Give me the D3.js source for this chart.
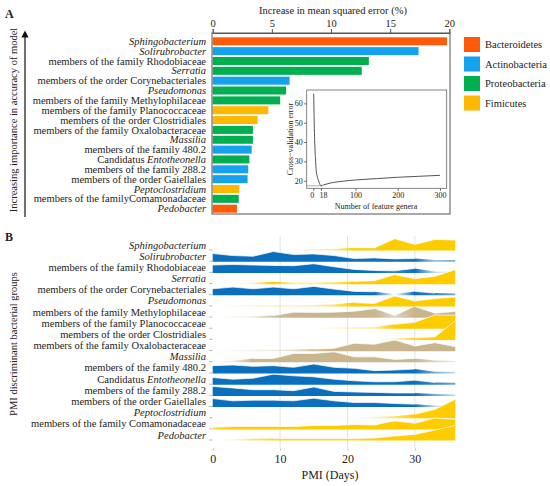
<!DOCTYPE html>
<html>
<head>
<meta charset="utf-8">
<script src="https://cdn.jsdelivr.net/npm/d3@7"></script>
<style>
  body { margin: 0; background: #fff; }
  text { font-family: "Liberation Serif", "DejaVu Serif", serif; fill: #222; }
</style>
</head>
<body>
<script>
// ---- data ----
var taxaA = ["*Sphingobacterium*", "*Solirubrobacter*", "members of the family Rhodobiaceae", "*Serratia*",
  "members of the order Corynebacteriales", "*Pseudomonas*", "members of the family Methylophilaceae",
  "members of the family Planococcaceae", "members of the order Clostridiales",
  "members of the family Oxalobacteraceae", "*Massilia*", "members of the family 480.2",
  "Candidatus *Entotheonella*", "members of the family 288.2 ", "members of the order Gaiellales",
  "*Peptoclostridium*", "members of the familyComamonadaceae", "*Pedobacter*"];
var mseIncrease = [19.8, 17.4, 13.2, 12.6, 6.5, 6.2, 5.7, 4.7, 3.8, 3.4, 3.4, 3.3, 3.1, 3.0, 2.95, 2.25, 2.2, 2.05];
var phylum = ["Bacteroidetes", "Actinobacteria", "Proteobacteria", "Proteobacteria", "Actinobacteria",
  "Proteobacteria", "Proteobacteria", "Fimicutes", "Fimicutes", "Proteobacteria", "Proteobacteria",
  "Actinobacteria", "Proteobacteria", "Actinobacteria", "Actinobacteria", "Fimicutes", "Proteobacteria",
  "Bacteroidetes"];
var phylaLegend = ["Bacteroidetes", "Actinobacteria", "Proteobacteria", "Fimicutes"];
var phylaColors = ["#ff5a0a", "#14a2ee", "#00b050", "#ffb800"];
var mseTicks = [0, 5, 10, 15, 20];

// inset: cross-validation
var cvGenera = [1, 2, 3, 5, 7, 9, 12, 15, 18, 25, 40, 60, 80, 100, 150, 200, 250, 300];
var cvError = [65, 52, 43, 32, 25, 22.5, 20.3, 18.5, 17.4, 17.9, 18.8, 19.5, 20.0, 20.4, 21.1, 21.8, 22.3, 22.8];
var cvXTicks = [0, 18, 100, 200, 300];
var cvYTicks = [20, 30, 40, 50, 60];

// panel B: ridges
var taxaB = ["*Sphingobacterium*", "*Solirubrobacter*", "members of the family Rhodobiaceae", "*Serratia*",
  "members of the order Corynebacteriales", "*Pseudomonas*", "members of the family Methylophilaceae",
  "members of the family Planococcaceae", "members of the order Clostridiales",
  "members of the family Oxalobacteraceae", "*Massilia*", "members of the family 480.2",
  "Candidatus *Entotheonella*", "members of the family 288.2", "members of the order Gaiellales",
  "*Peptoclostridium*", "members of the family Comamonadaceae", "*Pedobacter*"];
var days = [0, 3, 6, 9, 12, 15, 18, 21, 24, 27, 30, 33, 36];
var trend = ["late", "early", "early", "late", "early", "late", "mid", "late", "late", "mid", "mid",
  "early", "early", "early", "early", "late", "late", "late"];
var trendColors = { early: "#0a6fbd", mid: "#c9b58e", late: "#ffcc00" };
var abundance = [
  [0, 0, 0, 0, 0, 0.3, 0.5, 1.7, 1.5, 10.7, 5, 10, 9.3],
  [7, 5, 4.3, 9, 6, 6.7, 5, 2, 2.7, 1.7, 2, 0.5, 0.7],
  [6.7, 7.3, 6.7, 6.3, 6, 8, 5, 2.3, 1.3, 1, 3.3, 0.3, 0],
  [0, 0, 0.3, 1.3, 0.4, 0.4, 0.7, 1.5, 2.3, 8.3, 4.3, 6.7, 13.3],
  [5.3, 7, 5.3, 7, 5.3, 7.7, 5, 2.7, 2.3, 0, 2.7, 1, 0.7],
  [0, 0.1, 0.2, 0.3, 0.3, 0.4, 0.7, 2.7, 1.7, 9.3, 4.3, 6.7, 8.3],
  [0, 0.1, 0.3, 1, 4.3, 4, 4.3, 5.3, 7.7, 0.7, 10, 3.3, 5],
  [0, 0, 0, 0, 0, 0, 0.2, 0.3, 0.5, 3.3, 5.3, 12.7, 12.5],
  [0, 0, 0, 0, 0, 0, 0, 0, 0, 0.3, 1, 2, 18],
  [0, 0.1, 0.2, 0.3, 0.5, 1, 1.7, 6.7, 5.7, 10, 4, 7.3, 3.3],
  [0, 0.3, 2.7, 2.7, 7.7, 7.7, 9.3, 4.3, 4.3, 1.7, 2.7, 0.7, 0.3],
  [6.7, 7.3, 6, 6.7, 5, 8.3, 5, 4, 1.7, 2.3, 3.3, 0.7, 0.3],
  [6, 4.3, 5.3, 9.3, 7.7, 6.7, 4.3, 2.7, 1.7, 1.7, 3.3, 1, 0.7],
  [8.3, 6.7, 5, 5, 4, 7.7, 3.3, 2.7, 2.3, 1.7, 1.7, 0.7, 0.3],
  [7.3, 5, 5.7, 5.7, 5, 7.7, 5, 3.3, 3.3, 2.3, 1.7, 0.3, 0],
  [0, 0, 0, 0, 0, 0, 0, 0, 0.3, 0.7, 2.7, 7.7, 17.7],
  [1, 1.7, 1.7, 1.7, 1.7, 2.7, 2.7, 3.7, 3.3, 7.3, 5, 10.3, 8.7],
  [0, 0.2, 0.7, 1, 1, 1, 1, 1, 1.3, 3.3, 5, 9.3, 14]
];
var dayTicks = [0, 10, 20, 30];

var svg = d3.select("body").append("svg").attr("width", 550).attr("height", 486);
var defs = svg.append("defs");

// write a label where *...* parts are italic
function richText(sel, label) {
  label.split("*").forEach(function(part, i) {
    if (part === "") return;
    sel.append("tspan").attr("font-style", i % 2 ? "italic" : "normal").text(part);
  });
}

// ================= Panel A =================
svg.append("text").attr("x", 5).attr("y", 18).attr("font-size", 12).attr("font-weight", "bold").text("A");

var xA = d3.scaleLinear().domain([0, 20]).range([212.7, 449.3]);
var yA = d3.scalePoint().domain(d3.range(taxaA.length)).range([41.3, 208.7]);
var colorA = d3.scaleOrdinal().domain(phylaLegend).range(phylaColors);

svg.append("g").selectAll("rect").data(mseIncrease).join("rect")
    .attr("x", xA(0))
    .attr("y", function(d, i) { return yA(i) - 4; })
    .attr("width", function(d) { return xA(d) - xA(0); })
    .attr("height", 8)
    .attr("fill", function(d, i) { return colorA(phylum[i]); });

svg.append("g").selectAll("text").data(taxaA).join("text")
    .attr("x", 206)
    .attr("y", function(d, i) { return yA(i) + 3.6; })
    .attr("text-anchor", "end")
    .attr("font-size", 10.5)
    .each(function(d) { richText(d3.select(this), d); });

// frame
svg.append("rect").attr("x", 212).attr("y", 33).attr("width", 238).attr("height", 181)
    .attr("fill", "none").attr("stroke", "#555").attr("stroke-width", 1);

var axisA = svg.append("g").attr("transform", "translate(0,33)")
    .call(d3.axisTop(xA).tickValues(mseTicks).tickSize(4).tickPadding(2));
axisA.select(".domain").attr("stroke", "#555");
axisA.selectAll(".tick line").attr("stroke", "#555");
axisA.selectAll(".tick text").attr("font-size", 10.5).attr("font-family", "Liberation Serif").attr("fill", "#222");

svg.append("text").attr("x", 333).attr("y", 14).attr("text-anchor", "middle").attr("font-size", 10.5)
    .text("Increase in mean squared error (%)");

// arrow + rotated title
defs.append("marker").attr("id", "arrow").attr("viewBox", "0 0 10 10").attr("refX", 5).attr("refY", 5)
    .attr("markerWidth", 6).attr("markerHeight", 7).attr("orient", "auto")
  .append("path").attr("d", "M0,0L10,5L0,10z").attr("fill", "#111");
svg.append("line").attr("x1", 25).attr("x2", 25).attr("y1", 217).attr("y2", 34)
    .attr("stroke", "#111").attr("stroke-width", 1.2).attr("marker-end", "url(#arrow)");
svg.append("text").attr("transform", "translate(17,120) rotate(-90)").attr("text-anchor", "middle")
    .attr("font-size", 10.5).text("Increasing importance in accuracy of model");

// legend
var legend = svg.append("g").selectAll("g").data(phylaLegend).join("g")
    .attr("transform", function(d, i) { return "translate(464," + (37 + i * 19.5) + ")"; });
legend.append("rect").attr("width", 16).attr("height", 15).attr("fill", function(d) { return colorA(d); });
legend.append("text").attr("x", 21).attr("y", 11).attr("font-size", 10.5).text(function(d) { return d; });

// inset
var inset = svg.append("g");
var xI = d3.scaleLinear().domain([-15.6, 316]).range([306.7, 446.7]);
var yI = d3.scaleLinear().domain([16.1, 66.9]).range([188.3, 90]);
inset.append("rect").attr("x", 306.7).attr("y", 90).attr("width", 140).attr("height", 98.3)
    .attr("fill", "#fff").attr("stroke", "#666").attr("stroke-width", 0.8);
var ixAxis = inset.append("g").attr("transform", "translate(0,188.3)")
    .call(d3.axisBottom(xI).tickValues(cvXTicks).tickSize(2.5).tickPadding(2));
var iyAxis = inset.append("g").attr("transform", "translate(306.7,0)")
    .call(d3.axisLeft(yI).tickValues(cvYTicks).tickSize(2.5).tickPadding(1.5));
[ixAxis, iyAxis].forEach(function(a) {
  a.select(".domain").remove();
  a.selectAll(".tick line").attr("stroke", "#666");
  a.selectAll(".tick text").attr("font-size", 8).attr("font-family", "Liberation Serif").attr("fill", "#333");
});
ixAxis.selectAll(".tick text").filter(function(d) { return d === 0; }).attr("dx", -1.5);
ixAxis.selectAll(".tick text").filter(function(d) { return d === 18; }).attr("dx", 2);
inset.append("line").attr("x1", 306.7).attr("x2", xI(18)).attr("y1", yI(17.4)).attr("y2", yI(17.4))
    .attr("stroke", "#999").attr("stroke-width", 0.8);
inset.append("path")
    .attr("d", d3.line().x(function(d, i) { return xI(cvGenera[i]); }).y(function(d) { return yI(d); })
      .curve(d3.curveMonotoneX)(cvError))
    .attr("fill", "none").attr("stroke", "#555").attr("stroke-width", 1);
inset.append("text").attr("x", 376).attr("y", 209).attr("text-anchor", "middle").attr("font-size", 8)
    .text("Number of feature genera");
inset.append("text").attr("transform", "translate(293,139) rotate(-90)").attr("text-anchor", "middle")
    .attr("font-size", 8).text("Cross\u2212validation error");

// ================= Panel B =================
svg.append("text").attr("x", 5).attr("y", 241).attr("font-size", 12).attr("font-weight", "bold").text("B");

var xB = d3.scaleLinear().domain([0, 36]).range([212.7, 455.3]);
var yB = d3.scaleLinear().domain([0, taxaB.length - 1]).range([250, 440]);
var hB = d3.scaleLinear().domain([0, 20]).range([0, 20]);

svg.append("g").selectAll("line").data(dayTicks.slice(1)).join("line")
    .attr("x1", xB).attr("x2", xB).attr("y1", 236).attr("y2", 448)
    .attr("stroke", "#e2e2e2").attr("stroke-width", 1);

svg.append("g").selectAll("line").data(taxaB).join("line")
    .attr("x1", 209).attr("x2", 212.5)
    .attr("y1", function(d, i) { return yB(i); }).attr("y2", function(d, i) { return yB(i); })
    .attr("stroke", "#bbb");

var ridges = svg.append("g");
abundance.forEach(function(vals, i) {
  var base = yB(i);
  var col = trendColors[trend[i]];
  var grad = defs.append("linearGradient").attr("id", "fade" + i)
      .attr("gradientUnits", "userSpaceOnUse")
      .attr("x1", xB(0)).attr("x2", xB(36)).attr("y1", 0).attr("y2", 0);
  vals.forEach(function(v, j) {
    grad.append("stop").attr("offset", j / (days.length - 1))
        .attr("stop-color", col).attr("stop-opacity", Math.min(1, v / 1.2));
  });
  var area = d3.area()
      .x(function(d, j) { return xB(days[j]); })
      .y0(base + 0.6)
      .y1(function(d) { return base - hB(d) - 0.6; });
  ridges.append("path").attr("d", area(vals)).attr("fill", "url(#fade" + i + ")");
  var top = d3.line().x(function(d, j) { return xB(days[j]); })
      .y(function(d) { return base - hB(d) - 0.6; })
      .defined(function(d) { return d > 0.8; });
  ridges.append("path").attr("d", top(vals)).attr("fill", "none").attr("stroke", "#fff").attr("stroke-width", 0.7);
});

svg.append("g").selectAll("text").data(taxaB).join("text")
    .attr("x", 206)
    .attr("y", function(d, i) { return yB(i) - 1.5; })
    .attr("text-anchor", "end")
    .attr("font-size", 10.5)
    .each(function(d) { richText(d3.select(this), d); });

var axisB = svg.append("g").attr("transform", "translate(0,448)")
    .call(d3.axisBottom(xB).tickValues(dayTicks).tickSize(3).tickPadding(3));
axisB.select(".domain").remove();
axisB.selectAll(".tick line").attr("stroke", "#ccc");
axisB.selectAll(".tick text").attr("font-size", 12).attr("font-family", "Liberation Serif").attr("fill", "#222");

svg.append("text").attr("x", 330).attr("y", 479).attr("text-anchor", "middle").attr("font-size", 12)
    .text("PMI (Days)");
svg.append("text").attr("transform", "translate(17,344) rotate(-90)").attr("text-anchor", "middle")
    .attr("font-size", 10.5).text("PMI discriminant bacterial groups");
</script>
</body>
</html>
